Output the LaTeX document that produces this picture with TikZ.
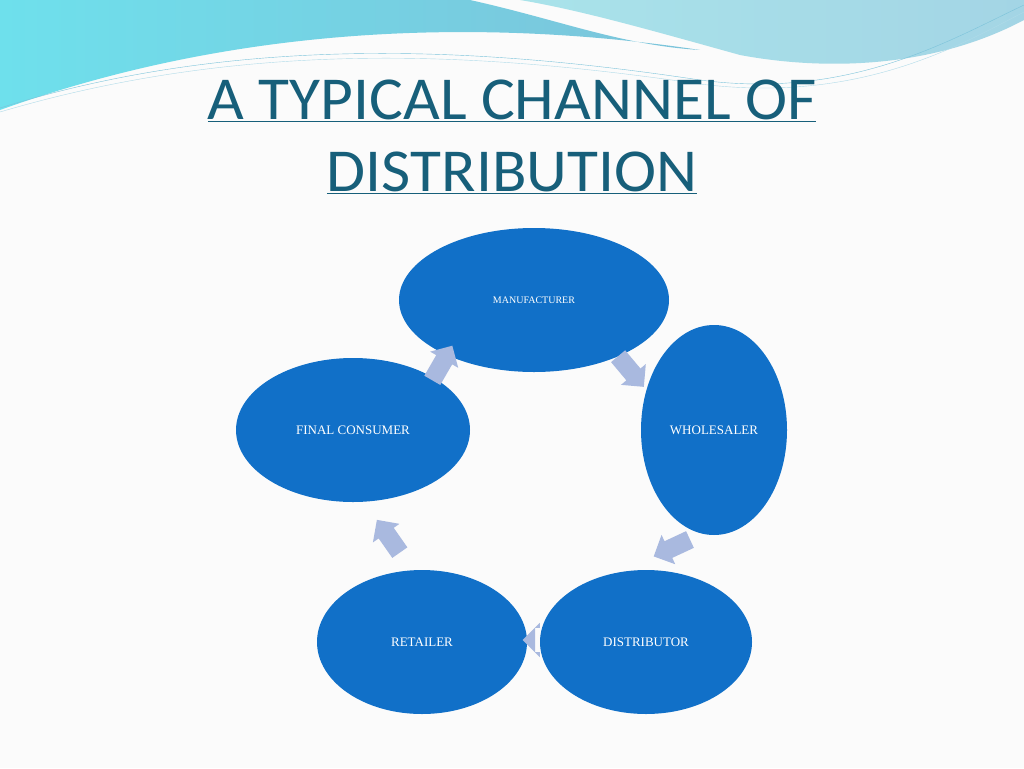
\documentclass[tikz,border=0pt]{standalone}
\usepackage{fontspec}
\setmainfont{Liberation Serif}
\newfontfamily\titlefont{Carlito}
\usetikzlibrary{shapes.arrows,shapes.geometric}
\definecolor{ellblue}{HTML}{1170C8}
\definecolor{arrblue}{HTML}{A9B9DF}
\definecolor{titlecol}{HTML}{175F7A}
\definecolor{waveA}{HTML}{7CC3DA}
\definecolor{waveB}{HTML}{6EE0EC}
\definecolor{waveC}{HTML}{A9E3EA}
\begin{document}
\begin{tikzpicture}[x=1pt,y=-1pt,
  stage/.style={ellipse,fill=ellblue,text=white,font=\fontsize{13}{15}\selectfont,inner sep=0pt},
  flow/.style={single arrow,fill=arrblue,minimum height=40pt,inner xsep=3pt,inner ysep=9pt,single arrow head extend=7pt}]
\useasboundingbox (0,0) rectangle (1024,768);
\fill[white!97!gray] (0,0) rectangle (1024,768);
% waves
\shade[left color=waveB,right color=waveA] (0,0) -- (470,0) .. controls (560,20) and (620,45) .. (700,50)
  .. controls (500,20) and (250,20) .. (0,110) -- cycle;
\shade[left color=waveC,right color=waveA!70] (520,0) -- (1024,0) -- (1024,20) .. controls (930,70) and (820,70) .. (740,55)
  .. controls (650,30) and (580,10) .. (520,0) -- cycle;
\draw[waveA,thin] (0,108) .. controls (250,30) and (500,50) .. (700,80) .. controls (850,100) and (950,40) .. (1024,5);
\draw[waveA!60,thin] (0,112) .. controls (260,35) and (500,55) .. (700,84) .. controls (860,104) and (960,45) .. (1024,12);
% title
\node[text=titlecol,font=\titlefont\fontsize{61}{72}\selectfont,align=center,xscale=1.04] (title) at (512,137)
  {\underline{A TYPICAL CHANNEL OF}\\\underline{DISTRIBUTION}};
% stages
\node[stage,minimum width=270pt,minimum height=144pt,font=\fontsize{10}{12}\selectfont] (m) at (534,300) {MANUFACTURER};
\node[stage,minimum width=146pt,minimum height=210pt] (w) at (714,430) {WHOLESALER};
\node[stage,minimum width=212pt,minimum height=144pt] (d) at (646,642) {DISTRIBUTOR};
\node[stage,minimum width=210pt,minimum height=144pt] (r) at (422,642) {RETAILER};
\node[stage,minimum width=234pt,minimum height=144pt] (f) at (353,430) {FINAL CONSUMER};
% arrows
\node[flow,rotate=-50] (a1) at (628,368) {};
\node[flow,rotate=-155] (a2) at (676,546) {};
\node[flow,rotate=180,minimum height=5pt,inner xsep=0pt,inner ysep=12pt,single arrow head extend=5pt] (a3) at (535,640) {};
\node[flow,rotate=125] (a4) at (391,540) {};
\node[flow,rotate=60] (a5) at (440,367) {};
\end{tikzpicture}
\end{document}
